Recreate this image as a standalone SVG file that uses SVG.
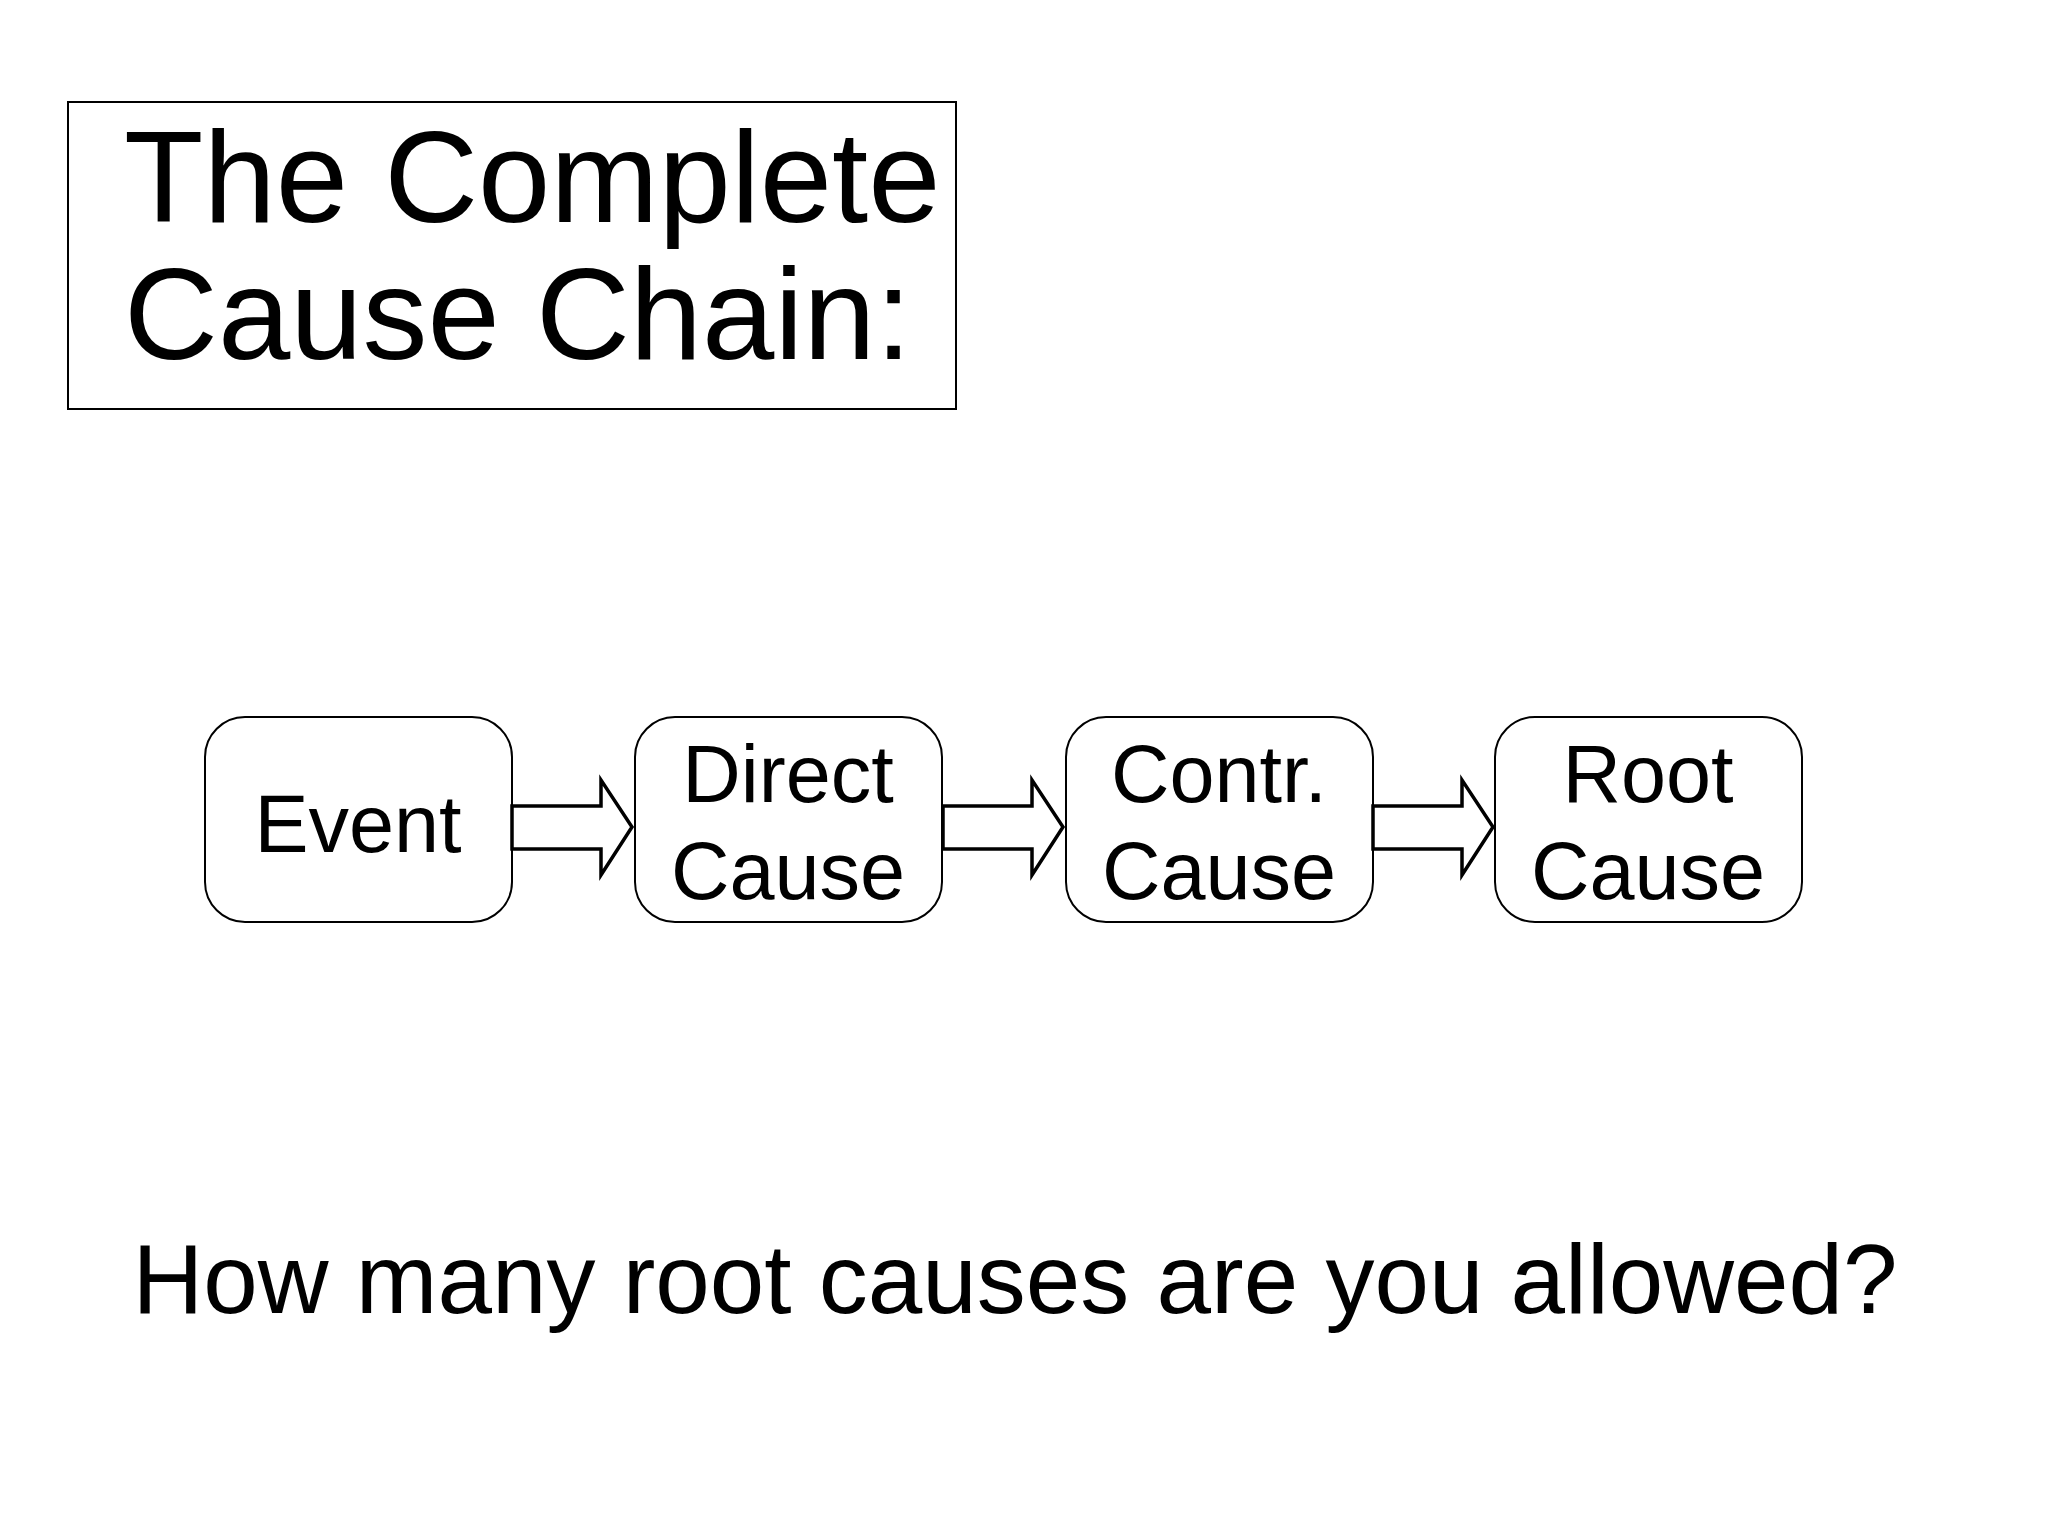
<svg xmlns="http://www.w3.org/2000/svg" width="2048" height="1536" viewBox="0 0 2048 1536">
<style>
text{font-family:"Liberation Sans",Arial,sans-serif;fill:#000}
.n{fill:#fff;stroke:#000;stroke-width:2}
.a{fill:#fff;stroke:#000;stroke-width:3.5}
.t{font-size:81px;text-anchor:middle}
</style>
<rect width="2048" height="1536" fill="#fff"/>
<g id="title">
<rect x="68" y="102" width="888" height="307" fill="#fff" stroke="#000" stroke-width="2"/>
<text x="124" y="222" font-size="130">The Complete</text>
<text x="124" y="359" font-size="130">Cause Chain:</text>
</g>
<g id="event"><rect class="n" x="205" y="717" width="307" height="205" rx="40"/><text class="t" x="358" y="852">Event</text></g>
<g id="direct"><rect class="n" x="635" y="717" width="307" height="205" rx="40"/><text class="t" x="788" y="802">Direct</text><text class="t" x="788" y="899">Cause</text></g>
<g id="contr"><rect class="n" x="1066" y="717" width="307" height="205" rx="40"/><text class="t" x="1219" y="802">Contr.</text><text class="t" x="1219" y="899">Cause</text></g>
<g id="root"><rect class="n" x="1495" y="717" width="307" height="205" rx="40"/><text class="t" x="1648" y="802">Root</text><text class="t" x="1648" y="899">Cause</text></g>
<g id="connectors">
<path class="a" d="M512 806H601V780L632 827L601 875V849H512Z"/>
<path class="a" d="M943 806H1032V780L1063 827L1032 875V849H943Z"/>
<path class="a" d="M1373 806H1462V780L1493 827L1462 875V849H1373Z"/>
</g>
<text x="1015" y="1313" font-size="98" text-anchor="middle">How many root causes are you allowed?</text>
</svg>
